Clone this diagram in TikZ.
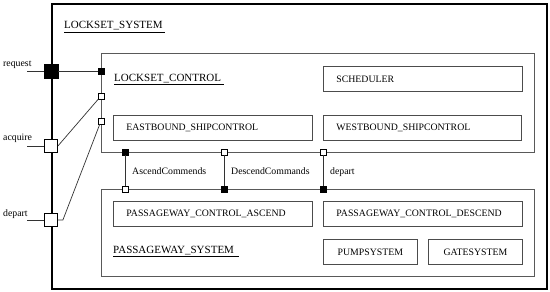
\documentclass[tikz,border=0pt]{standalone}
\usepackage{fontspec}
\setmainfont{Liberation Serif}
\begin{document}
\begin{tikzpicture}[x=1pt,y=-1pt,
  sysbox/.style={draw=black, line width=1.6pt, minimum width=495pt, minimum height=285pt, anchor=north west, inner sep=0pt},
  subbox/.style={draw=black!65, line width=0.8pt, minimum width=433pt, anchor=north west, inner sep=0pt},
  compbox/.style={draw=black!70, line width=0.8pt, anchor=north west, minimum height=25pt, inner xsep=13pt, inner ysep=0pt, align=left, font=\fontsize{9.8}{11}\selectfont},
  title/.style={anchor=base west, inner sep=0pt, font=\fontsize{11}{13}\selectfont},
  lbl/.style={anchor=base west, inner sep=0pt, font=\fontsize{9.8}{11}\selectfont},
  bigport/.style={draw=black, line width=0.8pt, minimum size=13pt, inner sep=0pt},
  smallport/.style={draw=black, line width=0.6pt, minimum size=6pt, inner sep=0pt},
  wire/.style={draw=black!80, line width=0.7pt}
]
\useasboundingbox (0,0) rectangle (550,292);
\fill[white] (0,0) rectangle (550,292);

% outer system box
\node[sysbox] (sys) at (51,3) {};
\node[title] (systitle) at (64,28) {LOCKSET\_SYSTEM};
\draw[line width=0.6pt] ([yshift=-4pt]systitle.base west) -- ([yshift=-4pt,xshift=2pt]systitle.base east);

% lockset control
\node[subbox, minimum height=99pt] (lc) at (101,53) {};
\node[title] (lctitle) at (114,81) {LOCKSET\_CONTROL};
\draw[line width=0.6pt] ([yshift=-3pt]lctitle.base west) -- ([yshift=-3pt,xshift=3pt]lctitle.base east);
\node[compbox, text width=173pt] (sched) at (323,66) {SCHEDULER};
\node[compbox, text width=173pt] (east) at (113,115) {EASTBOUND\_SHIPCONTROL};
\node[compbox, text width=172pt] (west) at (323,115) {WESTBOUND\_SHIPCONTROL};

% passageway system
\node[subbox, minimum height=87pt] (ps) at (101,189) {};
\node[compbox, text width=173pt] (pca) at (113,201) {PASSAGEWAY\_CONTROL\_ASCEND};
\node[compbox, text width=173pt] (pcd) at (323,201) {PASSAGEWAY\_CONTROL\_DESCEND};
\node[title, font=\fontsize{11}{13}\selectfont] (pstitle) at (113,253) {PASSAGEWAY\_SYSTEM};
\draw[line width=0.6pt] ([yshift=-3pt]pstitle.base west) -- ([yshift=-3pt,xshift=5pt]pstitle.base east);
\node[compbox, minimum width=94pt, text width=68pt, minimum height=25pt, align=center] (pump) at (323,239) {PUMPSYSTEM};
\node[compbox, minimum width=94pt, text width=68pt, minimum height=25pt, align=center] (gate) at (428,239) {GATESYSTEM};

% ports
\node[bigport, fill=black, minimum size=14pt] (rq) at (51,71) {};
\node[bigport, fill=white] (aq) at (51,146) {};
\node[bigport, fill=white] (dp) at (51,220) {};
\node[smallport, fill=black] (c1) at (101,71) {};
\node[smallport, fill=white] (c2) at (101,96) {};
\node[smallport, fill=white] (c3) at (101,121) {};
\node[smallport, fill=black] (t1) at (125,152) {};
\node[smallport, fill=white] (t2) at (224,152) {};
\node[smallport, fill=white] (t3) at (323,152) {};
\node[smallport, fill=white] (b1) at (125,189) {};
\node[smallport, fill=black] (b2) at (224,189) {};
\node[smallport, fill=black] (b3) at (323,189) {};

% external ends
\coordinate (rqx) at (27,71);
\coordinate (aqx) at (27,146);
\coordinate (dpx) at (27,220);

% wires
\draw[wire] (rqx) -- (rq) -- (c1);
\draw[wire] (aqx) -- (aq);
\draw[wire] (dpx) -- (dp);
\draw[wire] (aq.east) -- (c2);
\draw[wire] (dp.east) -- ++(5,0) -- (c3);
\draw[wire] (t1) -- (b1);
\draw[wire] (t2) -- (b2);
\draw[wire] (t3) -- (b3);

% labels
\node[lbl] (lrq) at (3,66) {request};
\node[lbl] (laq) at (3,140) {acquire};
\node[lbl] (ldp) at (3,216) {depart};
\node[lbl] (l1) at (132,174.5) {AscendCommends};
\node[lbl] (l2) at (231,174.5) {DescendCommands};
\node[lbl] (l3) at (330,174.5) {depart};
\end{tikzpicture}
\end{document}
